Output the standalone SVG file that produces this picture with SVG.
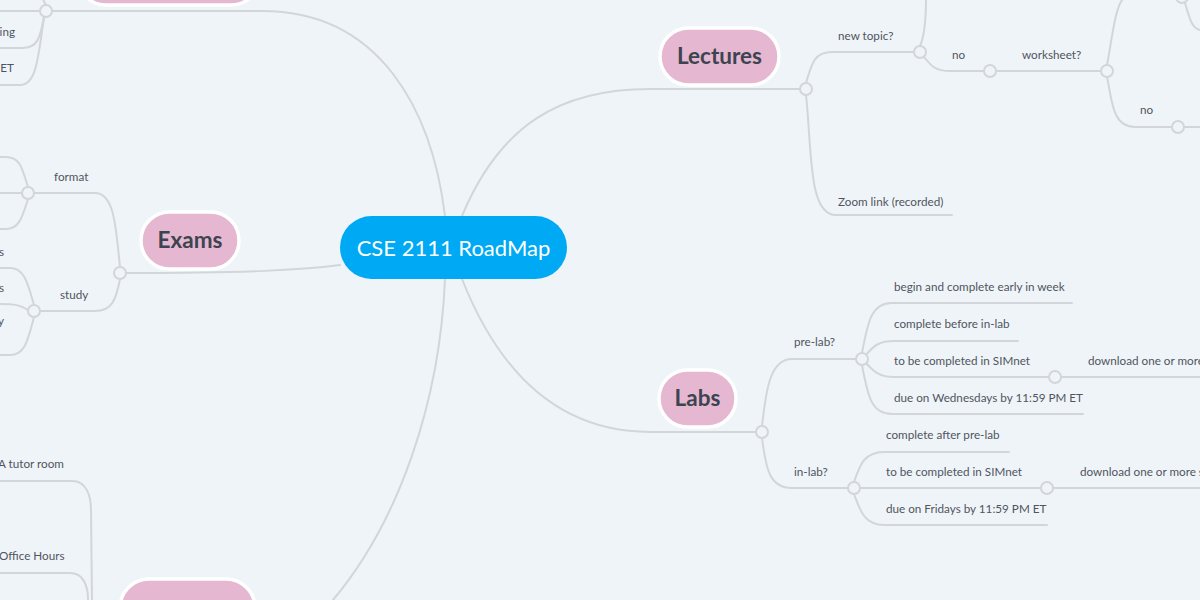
<svg xmlns="http://www.w3.org/2000/svg" width="1200" height="600" viewBox="0 0 1200 600">
<style>
.c{fill:none;stroke:#d2d6da;stroke-width:2;stroke-linecap:round}
.hub{fill:#eff4f8;stroke:#d2d6da;stroke-width:2}
.lbl{font-family:Lato,"Liberation Sans",sans-serif;font-size:11.7px;fill:#4f5560}
.main{fill:#e6b7d0;stroke:#ffffff;stroke-width:3.5}
.mt{font-family:Lato,"Liberation Sans",sans-serif;font-size:22.5px;font-weight:bold;fill:#3c4450;text-anchor:middle}
</style>
<rect width="1200" height="600" fill="#eff4f8"/>
<g id="connectors">
<path class="c" d="M445 216 C432 110 380 11 262 11 L52 11"/>
<path class="c" d="M462 216 C500 125 560 89 650 89 L800 89"/>
<path class="c" d="M462 279 C500 375 560 432 650 432 L756 432"/>
<path class="c" d="M340 265 C300 270 250 273 126 273"/>
<path class="c" d="M445 279 C440 400 400 520 333 600"/>
<path class="c" d="M46 5 C44 2 43 0 42 -4"/>
<path class="c" d="M40 11 L0 11"/>
<path class="c" d="M44 17 C40 38 38 48 22 48 L0 48"/>
<path class="c" d="M44 17 C38 60 36 85 20 85 L0 85"/>
<path class="c" d="M806 83 C812 62 815 52 832 52 L914 52"/>
<path class="c" d="M806 95 C812 150 808 215 836 215 L952 215"/>
<path class="c" d="M920 46 C925 35 926 15 926 -2"/>
<path class="c" d="M924 57 C932 67 936 71 950 71 L984 71"/>
<path class="c" d="M996 71 L1101 71"/>
<path class="c" d="M1107 65 C1112 40 1115 5 1124 -2"/>
<path class="c" d="M1107 77 C1112 100 1112 127 1135 127 L1172 127"/>
<path class="c" d="M1184 127 L1200 127"/>
<path class="c" d="M1185 3 C1190 20 1192 28 1200 30"/>
<path class="c" d="M762 426 C766 390 770 359 792 359 L856 359"/>
<path class="c" d="M762 438 C766 470 770 488 792 488 L848 488"/>
<path class="c" d="M862 353 C868 320 872 303 892 303 L1072 303"/>
<path class="c" d="M866 355 C874 345 880 341 894 341 L1018 341"/>
<path class="c" d="M866 363 C874 372 880 377 894 377 L1049 377"/>
<path class="c" d="M862 365 C868 398 872 414 892 414 L1083 414"/>
<path class="c" d="M1061 377 L1200 377"/>
<path class="c" d="M854 482 C860 465 864 452 884 452 L1009 452"/>
<path class="c" d="M860 488 L1041 488"/>
<path class="c" d="M854 494 C860 510 864 525 884 525 L1047 525"/>
<path class="c" d="M1053 488 L1200 488"/>
<path class="c" d="M120 267 C116 230 115 193 95 193 L34 193"/>
<path class="c" d="M120 279 C116 300 112 311 95 311 L40 311"/>
<path class="c" d="M28 187 C22 168 20 157 6 157 L0 157"/>
<path class="c" d="M22 193 L0 193"/>
<path class="c" d="M28 199 C22 218 19 229 6 229 L0 229"/>
<path class="c" d="M34 305 C28 285 25 268 10 268 L0 268"/>
<path class="c" d="M28 310 C20 305 15 304 0 304"/>
<path class="c" d="M34 317 C28 340 25 355 10 355 L0 355"/>
<path class="c" d="M0 481 L72 481 C86 481 91 495 91 510 L92 600"/>
<path class="c" d="M0 573 L70 573 C83 573 88 585 88 600"/>
</g>
<g id="hubs">
<circle class="hub" cx="46" cy="11" r="6"/>
<circle class="hub" cx="806" cy="89" r="6"/>
<circle class="hub" cx="920" cy="52" r="6"/>
<circle class="hub" cx="990" cy="71" r="6"/>
<circle class="hub" cx="1107" cy="71" r="6"/>
<circle class="hub" cx="1178" cy="127" r="6"/>
<circle class="hub" cx="1182" cy="-3" r="6"/>
<circle class="hub" cx="762" cy="432" r="6"/>
<circle class="hub" cx="862" cy="359" r="6"/>
<circle class="hub" cx="1055" cy="377" r="6"/>
<circle class="hub" cx="854" cy="488" r="6"/>
<circle class="hub" cx="1047" cy="488" r="6"/>
<circle class="hub" cx="120" cy="273" r="6"/>
<circle class="hub" cx="28" cy="193" r="6"/>
<circle class="hub" cx="34" cy="311" r="6"/>
</g>
<g id="root">
<rect x="340" y="216" width="227" height="63" rx="31.5" fill="#00a9f4"/>
<text x="453.5" y="255.5" font-family="Lato,'Liberation Sans',sans-serif" font-size="22" fill="#ffffff" text-anchor="middle">CSE 2111 RoadMap</text>
</g>
<g id="topic-top-left"><rect class="main" x="77" y="-53" width="183" height="58" rx="29"/></g>
<g id="topic-lectures"><rect class="main" x="660" y="28" width="119" height="57" rx="28.5"/><text class="mt" x="719.5" y="64">Lectures</text></g>
<g id="topic-labs"><rect class="main" x="659" y="370" width="77" height="57" rx="28.5"/><text class="mt" x="697.5" y="406">Labs</text></g>
<g id="topic-exams"><rect class="main" x="141" y="212" width="98" height="57" rx="28.5"/><text class="mt" x="190" y="248">Exams</text></g>
<g id="topic-bottom"><rect class="main" x="120" y="579" width="135" height="58" rx="29"/></g>
<g id="labels">
<text class="lbl" x="15" y="36" text-anchor="end">ing</text>
<text class="lbl" x="14" y="72" text-anchor="end">ET</text>
<text class="lbl" x="838" y="40">new topic?</text>
<text class="lbl" x="952" y="59">no</text>
<text class="lbl" x="1022" y="59">worksheet?</text>
<text class="lbl" x="1140" y="114">no</text>
<text class="lbl" x="838" y="206">Zoom link (recorded)</text>
<text class="lbl" x="794" y="346">pre-lab?</text>
<text class="lbl" x="894" y="291">begin and complete early in week</text>
<text class="lbl" x="894" y="328">complete before in-lab</text>
<text class="lbl" x="894" y="365">to be completed in SIMnet</text>
<text class="lbl" x="1088" y="365">download one or more</text>
<text class="lbl" x="894" y="402">due on Wednesdays by 11:59 PM ET</text>
<text class="lbl" x="886" y="439">complete after pre-lab</text>
<text class="lbl" x="794" y="476">in-lab?</text>
<text class="lbl" x="886" y="476">to be completed in SIMnet</text>
<text class="lbl" x="1080" y="476">download one or more s</text>
<text class="lbl" x="886" y="513">due on Fridays by 11:59 PM ET</text>
<text class="lbl" x="54" y="181">format</text>
<text class="lbl" x="60" y="299">study</text>
<text class="lbl" x="4" y="256" text-anchor="end">s</text>
<text class="lbl" x="4" y="292" text-anchor="end">s</text>
<text class="lbl" x="4" y="325" text-anchor="end">y</text>
<text class="lbl" x="-2" y="468">A tutor room</text>
<text class="lbl" x="-1" y="560">Office Hours</text>
</g>
</svg>
